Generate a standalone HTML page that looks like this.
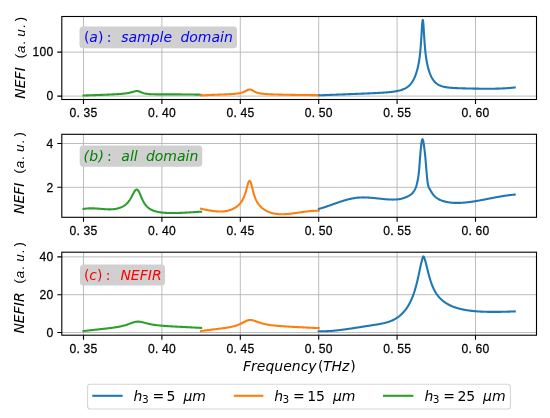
<!DOCTYPE html>
<html><head><meta charset="utf-8"><style>
html,body{margin:0;padding:0;background:#fff;width:550px;height:418px;overflow:hidden}
svg{display:block}
</style></head><body>
<svg width="550" height="418" viewBox="0 0 550 418">
<rect width="550" height="418" fill="#fff"/>
<path d="M83.50,16.5V99.5M161.90,16.5V99.5M240.30,16.5V99.5M318.70,16.5V99.5M397.10,16.5V99.5M475.50,16.5V99.5M61.8,96.10H536.5M61.8,52.10H536.5" stroke="#b0b0b0" stroke-width="0.85" fill="none"/>
<path d="M83.50,95.51 L84.00,95.49 L84.50,95.47 L85.00,95.46 L85.50,95.44 L86.00,95.42 L86.50,95.40 L87.00,95.39 L87.50,95.37 L88.00,95.35 L88.50,95.34 L89.00,95.32 L89.50,95.30 L90.00,95.29 L90.50,95.27 L91.00,95.25 L91.50,95.23 L92.00,95.22 L92.50,95.20 L93.00,95.18 L93.50,95.16 L94.00,95.15 L94.50,95.13 L95.00,95.11 L95.50,95.09 L96.00,95.08 L96.50,95.06 L97.00,95.04 L97.50,95.02 L98.00,95.01 L98.50,94.99 L99.00,94.97 L99.50,94.95 L100.00,94.93 L100.50,94.91 L101.00,94.90 L101.50,94.88 L102.00,94.86 L102.50,94.84 L103.00,94.82 L103.50,94.80 L104.00,94.78 L104.50,94.76 L105.00,94.74 L105.50,94.72 L106.00,94.70 L106.50,94.68 L107.00,94.66 L107.50,94.64 L108.00,94.62 L108.50,94.60 L109.00,94.58 L109.50,94.56 L110.00,94.53 L110.50,94.51 L111.00,94.49 L111.50,94.47 L112.00,94.44 L112.50,94.42 L113.00,94.39 L113.50,94.37 L114.00,94.34 L114.50,94.32 L115.00,94.29 L115.50,94.26 L116.00,94.23 L116.50,94.20 L117.00,94.17 L117.50,94.14 L118.00,94.11 L118.50,94.08 L119.00,94.04 L119.50,94.01 L120.00,93.97 L120.50,93.93 L121.00,93.89 L121.50,93.85 L122.00,93.80 L122.50,93.76 L123.00,93.71 L123.50,93.66 L124.00,93.60 L124.50,93.55 L125.00,93.49 L125.50,93.42 L126.00,93.36 L126.50,93.29 L127.00,93.21 L127.50,93.13 L128.00,93.04 L128.50,92.95 L129.00,92.85 L129.50,92.75 L130.00,92.64 L130.50,92.52 L131.00,92.39 L131.50,92.26 L132.00,92.12 L132.50,91.98 L133.00,91.83 L133.50,91.69 L134.00,91.54 L134.50,91.41 L135.00,91.28 L135.50,91.17 L136.00,91.09 L136.50,91.04 L137.05,91.03 L137.55,91.07 L138.05,91.14 L138.55,91.26 L139.05,91.41 L139.55,91.59 L140.05,91.79 L140.55,92.01 L141.05,92.22 L141.55,92.43 L142.05,92.63 L142.55,92.82 L143.05,93.00 L143.55,93.15 L144.05,93.30 L144.55,93.43 L145.05,93.54 L145.55,93.64 L146.05,93.73 L146.55,93.81 L147.05,93.88 L147.55,93.94 L148.05,94.00 L148.55,94.05 L149.05,94.09 L149.55,94.12 L150.05,94.16 L150.55,94.18 L151.05,94.21 L151.55,94.23 L152.05,94.25 L152.55,94.27 L153.05,94.28 L153.55,94.29 L154.05,94.30 L154.55,94.31 L155.05,94.32 L155.55,94.33 L156.05,94.34 L156.55,94.34 L157.05,94.35 L157.55,94.35 L158.05,94.35 L158.55,94.36 L159.05,94.36 L159.55,94.36 L160.05,94.36 L160.55,94.37 L161.05,94.37 L161.55,94.37 L162.05,94.37 L162.55,94.37 L163.05,94.37 L163.55,94.37 L164.05,94.37 L164.55,94.37 L165.05,94.37 L165.55,94.37 L166.05,94.37 L166.55,94.37 L167.05,94.37 L167.55,94.37 L168.05,94.38 L168.55,94.38 L169.05,94.38 L169.55,94.38 L170.05,94.38 L170.55,94.38 L171.05,94.38 L171.55,94.38 L172.05,94.38 L172.55,94.38 L173.05,94.38 L173.55,94.39 L174.05,94.39 L174.55,94.39 L175.05,94.39 L175.55,94.39 L176.05,94.40 L176.55,94.40 L177.05,94.40 L177.55,94.40 L178.05,94.41 L178.55,94.41 L179.05,94.41 L179.55,94.41 L180.05,94.42 L180.55,94.42 L181.05,94.42 L181.55,94.43 L182.05,94.43 L182.55,94.44 L183.05,94.44 L183.55,94.44 L184.05,94.45 L184.55,94.45 L185.05,94.46 L185.55,94.46 L186.05,94.47 L186.55,94.47 L187.05,94.48 L187.55,94.48 L188.05,94.49 L188.55,94.50 L189.05,94.50 L189.55,94.51 L190.05,94.52 L190.55,94.52 L191.05,94.53 L191.55,94.54 L192.05,94.54 L192.55,94.55 L193.05,94.56 L193.55,94.57 L194.05,94.57 L194.55,94.58 L195.05,94.59 L195.55,94.60 L196.05,94.61 L196.55,94.62 L197.05,94.63 L197.55,94.63 L198.05,94.64 L198.55,94.65 L199.05,94.66 L199.55,94.67 L200.05,94.68 L200.55,94.69 L201.05,94.70 L201.10,94.71" stroke="#2ca02c" stroke-width="2.1" fill="none" stroke-linecap="square" stroke-linejoin="round"/>
<path d="M201.10,95.41 L201.60,95.39 L202.10,95.36 L202.60,95.34 L203.10,95.31 L203.60,95.28 L204.10,95.26 L204.60,95.23 L205.10,95.21 L205.60,95.19 L206.10,95.16 L206.60,95.14 L207.10,95.12 L207.60,95.09 L208.10,95.07 L208.60,95.05 L209.10,95.03 L209.60,95.00 L210.10,94.98 L210.60,94.96 L211.10,94.94 L211.60,94.92 L212.10,94.90 L212.60,94.88 L213.10,94.86 L213.60,94.84 L214.10,94.82 L214.60,94.80 L215.10,94.78 L215.60,94.76 L216.10,94.74 L216.60,94.72 L217.10,94.70 L217.60,94.68 L218.10,94.66 L218.60,94.64 L219.10,94.62 L219.60,94.60 L220.10,94.59 L220.60,94.57 L221.10,94.55 L221.60,94.53 L222.10,94.51 L222.60,94.49 L223.10,94.47 L223.60,94.45 L224.10,94.43 L224.60,94.41 L225.10,94.39 L225.60,94.37 L226.10,94.35 L226.60,94.33 L227.10,94.30 L227.60,94.28 L228.10,94.26 L228.60,94.23 L229.10,94.21 L229.60,94.18 L230.10,94.16 L230.60,94.13 L231.10,94.10 L231.60,94.07 L232.10,94.03 L232.60,94.00 L233.10,93.96 L233.60,93.93 L234.10,93.89 L234.60,93.84 L235.10,93.80 L235.60,93.75 L236.10,93.69 L236.60,93.64 L237.10,93.57 L237.60,93.51 L238.10,93.43 L238.60,93.35 L239.10,93.27 L239.60,93.17 L240.10,93.07 L240.60,92.95 L241.10,92.83 L241.60,92.69 L242.10,92.54 L242.60,92.37 L243.10,92.19 L243.60,91.99 L244.10,91.78 L244.60,91.55 L245.10,91.30 L245.60,91.05 L246.10,90.78 L246.60,90.51 L247.10,90.26 L247.60,90.02 L248.10,89.82 L248.60,89.66 L249.10,89.55 L249.60,89.52 L250.10,89.55 L250.60,89.65 L251.10,89.81 L251.60,90.02 L252.10,90.27 L252.60,90.53 L253.10,90.81 L253.60,91.08 L254.10,91.35 L254.60,91.61 L255.10,91.85 L255.60,92.07 L256.10,92.28 L256.60,92.47 L257.10,92.64 L257.60,92.80 L258.10,92.94 L258.60,93.07 L259.10,93.19 L259.60,93.29 L260.10,93.39 L260.60,93.48 L261.10,93.56 L261.60,93.63 L262.10,93.70 L262.60,93.76 L263.10,93.82 L263.60,93.87 L264.10,93.92 L264.60,93.97 L265.10,94.01 L265.60,94.05 L266.10,94.09 L266.60,94.12 L267.10,94.15 L267.60,94.19 L268.10,94.21 L268.60,94.24 L269.10,94.27 L269.60,94.29 L270.10,94.32 L270.60,94.34 L271.10,94.36 L271.60,94.38 L272.10,94.40 L272.60,94.42 L273.10,94.44 L273.60,94.45 L274.10,94.47 L274.60,94.49 L275.10,94.50 L275.60,94.52 L276.10,94.53 L276.60,94.54 L277.10,94.56 L277.60,94.57 L278.10,94.59 L278.60,94.60 L279.10,94.61 L279.60,94.62 L280.10,94.63 L280.60,94.65 L281.10,94.66 L281.60,94.67 L282.10,94.68 L282.60,94.69 L283.10,94.70 L283.60,94.71 L284.10,94.72 L284.60,94.73 L285.10,94.74 L285.60,94.75 L286.10,94.76 L286.60,94.77 L287.10,94.78 L287.60,94.79 L288.10,94.80 L288.60,94.81 L289.10,94.81 L289.60,94.82 L290.10,94.83 L290.60,94.84 L291.10,94.85 L291.60,94.86 L292.10,94.86 L292.60,94.87 L293.10,94.88 L293.60,94.89 L294.10,94.90 L294.60,94.90 L295.10,94.91 L295.60,94.92 L296.10,94.92 L296.60,94.93 L297.10,94.94 L297.60,94.94 L298.10,94.95 L298.60,94.96 L299.10,94.96 L299.60,94.97 L300.10,94.98 L300.60,94.98 L301.10,94.99 L301.60,94.99 L302.10,95.00 L302.60,95.00 L303.10,95.01 L303.60,95.02 L304.10,95.02 L304.60,95.03 L305.10,95.03 L305.60,95.03 L306.10,95.04 L306.60,95.04 L307.10,95.05 L307.60,95.05 L308.10,95.06 L308.60,95.06 L309.10,95.06 L309.60,95.07 L310.10,95.07 L310.60,95.07 L311.10,95.08 L311.60,95.08 L312.10,95.08 L312.60,95.09 L313.10,95.09 L313.60,95.09 L314.10,95.09 L314.60,95.10 L315.10,95.10 L315.60,95.10 L316.10,95.10 L316.60,95.10 L317.10,95.10 L317.60,95.10 L318.10,95.11 L318.60,95.11 L318.70,95.11" stroke="#ff7f0e" stroke-width="2.1" fill="none" stroke-linecap="square" stroke-linejoin="round"/>
<path d="M319.30,95.30 L319.80,95.29 L320.30,95.27 L320.80,95.25 L321.30,95.23 L321.80,95.21 L322.30,95.19 L322.80,95.18 L323.30,95.16 L323.80,95.14 L324.30,95.12 L324.80,95.10 L325.30,95.08 L325.80,95.06 L326.30,95.04 L326.80,95.02 L327.30,95.01 L327.80,94.99 L328.30,94.97 L328.80,94.95 L329.30,94.93 L329.80,94.91 L330.30,94.89 L330.80,94.87 L331.30,94.85 L331.80,94.83 L332.30,94.81 L332.80,94.79 L333.30,94.78 L333.80,94.76 L334.30,94.74 L334.80,94.72 L335.30,94.70 L335.80,94.68 L336.30,94.66 L336.80,94.64 L337.30,94.62 L337.80,94.60 L338.30,94.58 L338.80,94.56 L339.30,94.54 L339.80,94.52 L340.30,94.50 L340.80,94.48 L341.30,94.46 L341.80,94.44 L342.30,94.43 L342.80,94.41 L343.30,94.39 L343.80,94.37 L344.30,94.35 L344.80,94.33 L345.30,94.31 L345.80,94.29 L346.30,94.27 L346.80,94.25 L347.30,94.23 L347.80,94.21 L348.30,94.19 L348.80,94.17 L349.30,94.15 L349.80,94.13 L350.30,94.11 L350.80,94.09 L351.30,94.07 L351.80,94.06 L352.30,94.04 L352.80,94.02 L353.30,94.00 L353.80,93.98 L354.30,93.96 L354.80,93.94 L355.30,93.92 L355.80,93.90 L356.30,93.88 L356.80,93.86 L357.30,93.84 L357.80,93.82 L358.30,93.80 L358.80,93.78 L359.30,93.76 L359.80,93.74 L360.30,93.72 L360.80,93.70 L361.30,93.68 L361.80,93.66 L362.30,93.64 L362.80,93.62 L363.30,93.60 L363.80,93.58 L364.30,93.56 L364.80,93.54 L365.30,93.52 L365.80,93.50 L366.30,93.48 L366.80,93.46 L367.30,93.44 L367.80,93.42 L368.30,93.40 L368.80,93.38 L369.30,93.36 L369.80,93.33 L370.30,93.31 L370.80,93.29 L371.30,93.27 L371.80,93.25 L372.30,93.22 L372.80,93.20 L373.30,93.18 L373.80,93.15 L374.30,93.13 L374.80,93.11 L375.30,93.08 L375.80,93.06 L376.30,93.03 L376.80,93.01 L377.30,92.98 L377.80,92.96 L378.30,92.93 L378.80,92.90 L379.30,92.87 L379.80,92.85 L380.30,92.82 L380.80,92.79 L381.30,92.76 L381.80,92.73 L382.30,92.70 L382.80,92.66 L383.30,92.63 L383.80,92.60 L384.30,92.56 L384.80,92.52 L385.30,92.49 L385.80,92.45 L386.30,92.41 L386.80,92.37 L387.30,92.33 L387.80,92.28 L388.30,92.24 L388.80,92.19 L389.30,92.14 L389.80,92.09 L390.30,92.04 L390.80,91.99 L391.30,91.93 L391.80,91.87 L392.30,91.81 L392.80,91.74 L393.30,91.68 L393.80,91.61 L394.30,91.53 L394.80,91.45 L395.30,91.37 L395.80,91.29 L396.30,91.20 L396.80,91.11 L397.30,91.01 L397.80,90.90 L398.30,90.79 L398.80,90.68 L399.30,90.55 L399.80,90.42 L400.30,90.29 L400.80,90.14 L401.30,89.99 L401.80,89.82 L402.30,89.65 L402.80,89.46 L403.30,89.26 L403.80,89.05 L404.30,88.83 L404.80,88.58 L405.30,88.33 L405.80,88.05 L406.30,87.75 L406.80,87.44 L407.30,87.09 L407.80,86.73 L408.30,86.33 L408.80,85.91 L409.30,85.45 L409.80,84.95 L410.30,84.41 L410.80,83.83 L411.30,83.20 L411.80,82.52 L412.10,82.08 L412.55,81.38 L413.05,80.54 L413.30,80.10 L413.55,79.63 L413.80,79.15 L414.05,78.64 L414.30,78.11 L414.55,77.56 L414.80,76.98 L415.05,76.38 L415.30,75.75 L415.55,75.09 L415.80,74.40 L416.05,73.68 L416.30,72.93 L416.50,72.30 L416.80,71.31 L417.05,70.43 L417.30,69.51 L417.55,68.54 L417.80,67.51 L418.00,66.63 L418.30,65.24 L418.55,63.98 L418.80,62.62 L419.00,61.45 L419.30,59.54 L419.55,57.76 L419.80,55.80 L419.90,54.95 L420.05,53.61 L420.30,51.15 L420.55,48.39 L420.80,45.29 L421.05,41.82 L421.30,38.01 L421.55,33.94 L421.60,33.10 L421.80,29.79 L422.05,25.88 L422.30,22.64 L422.55,20.53 L422.80,19.91 L423.05,20.90 L423.30,23.28 L423.55,26.65 L423.80,30.55 L424.00,33.78 L424.05,34.58 L424.30,38.49 L424.55,42.11 L424.80,45.40 L425.05,48.34 L425.30,50.96 L425.55,53.29 L425.80,55.37 L426.05,57.25 L426.30,58.94 L426.55,60.49 L426.80,61.90 L427.00,62.95 L427.30,64.41 L427.55,65.54 L427.80,66.60 L428.00,67.39 L428.30,68.52 L428.55,69.40 L428.80,70.24 L429.05,71.03 L429.30,71.79 L429.55,72.51 L429.80,73.19 L430.05,73.84 L430.30,74.46 L430.55,75.06 L430.80,75.62 L431.05,76.16 L431.30,76.68 L431.55,77.17 L431.80,77.65 L432.05,78.10 L432.55,78.94 L433.05,79.71 L433.55,80.41 L434.05,81.05 L434.55,81.63 L435.05,82.17 L435.50,82.61 L436.05,83.11 L436.55,83.52 L437.05,83.89 L437.55,84.23 L438.05,84.55 L438.55,84.83 L439.05,85.10 L439.55,85.34 L440.05,85.56 L440.55,85.77 L441.05,85.96 L441.55,86.13 L442.05,86.29 L442.55,86.44 L443.05,86.58 L443.55,86.70 L444.05,86.82 L444.55,86.93 L445.05,87.03 L445.55,87.12 L446.05,87.21 L446.55,87.29 L447.05,87.36 L447.55,87.43 L448.05,87.50 L448.55,87.56 L449.05,87.61 L449.55,87.67 L450.05,87.71 L450.55,87.76 L451.05,87.80 L451.55,87.84 L452.05,87.88 L452.55,87.91 L453.05,87.95 L453.55,87.98 L454.05,88.01 L454.55,88.03 L455.05,88.06 L455.55,88.08 L456.05,88.11 L456.55,88.13 L457.05,88.15 L457.55,88.17 L458.05,88.19 L458.55,88.21 L459.05,88.23 L459.55,88.25 L460.05,88.26 L460.55,88.28 L461.05,88.29 L461.55,88.31 L462.05,88.32 L462.55,88.34 L463.05,88.35 L463.55,88.36 L464.05,88.38 L464.55,88.39 L465.05,88.40 L465.55,88.41 L466.05,88.43 L466.55,88.44 L467.05,88.45 L467.55,88.46 L468.05,88.47 L468.55,88.48 L469.05,88.49 L469.55,88.50 L470.05,88.52 L470.55,88.53 L471.05,88.54 L471.55,88.55 L472.05,88.56 L472.55,88.57 L473.05,88.58 L473.55,88.58 L474.05,88.59 L474.55,88.60 L475.05,88.61 L475.55,88.62 L476.05,88.63 L476.55,88.64 L477.05,88.65 L477.55,88.65 L478.05,88.66 L478.55,88.67 L479.05,88.68 L479.55,88.68 L480.05,88.69 L480.55,88.70 L481.05,88.70 L481.55,88.71 L482.05,88.71 L482.55,88.72 L483.05,88.72 L483.55,88.73 L484.05,88.73 L484.55,88.73 L485.05,88.74 L485.55,88.74 L486.05,88.74 L486.55,88.74 L487.05,88.74 L487.55,88.74 L488.05,88.74 L488.55,88.74 L489.05,88.74 L489.55,88.74 L490.05,88.74 L490.55,88.74 L491.05,88.73 L491.55,88.73 L492.05,88.73 L492.55,88.72 L493.05,88.71 L493.55,88.71 L494.05,88.70 L494.55,88.69 L495.05,88.68 L495.55,88.67 L496.05,88.66 L496.55,88.65 L497.05,88.64 L497.55,88.62 L498.05,88.61 L498.55,88.59 L499.05,88.58 L499.55,88.56 L500.05,88.54 L500.55,88.52 L501.05,88.50 L501.55,88.48 L502.05,88.46 L502.55,88.44 L503.05,88.41 L503.55,88.39 L504.05,88.36 L504.55,88.33 L505.05,88.31 L505.55,88.27 L506.05,88.24 L506.55,88.21 L507.05,88.18 L507.55,88.14 L508.05,88.11 L508.55,88.07 L509.05,88.03 L509.55,87.99 L510.05,87.95 L510.55,87.90 L511.05,87.86 L511.55,87.81 L512.05,87.76 L512.55,87.71 L513.05,87.66 L513.55,87.61 L514.05,87.56 L514.55,87.50 L514.70,87.48" stroke="#1f77b4" stroke-width="2.1" fill="none" stroke-linecap="square" stroke-linejoin="round"/>
<rect x="61.8" y="16.5" width="474.7" height="83.0" fill="none" stroke="#000" stroke-width="1.1"/>
<path d="M83.50,99.5v4.5M161.90,99.5v4.5M240.30,99.5v4.5M318.70,99.5v4.5M397.10,99.5v4.5M475.50,99.5v4.5M61.8,96.10h-4.5M61.8,52.10h-4.5" stroke="#000" stroke-width="1.1" fill="none"/>
<g style="font-family:'Liberation Sans',sans-serif;font-size:13.2px;stroke:#000;stroke-width:0.25" fill="#000"><text transform="translate(69.62,117.00) scale(0.92,1)" x="0.00 7.58 15.22 22.83" y="0">0.35</text><text transform="translate(148.02,117.00) scale(0.92,1)" x="0.00 7.58 15.22 22.83" y="0">0.40</text><text transform="translate(226.42,117.00) scale(0.92,1)" x="0.00 7.58 15.22 22.83" y="0">0.45</text><text transform="translate(304.82,117.00) scale(0.92,1)" x="0.00 7.58 15.22 22.83" y="0">0.50</text><text transform="translate(383.22,117.00) scale(0.92,1)" x="0.00 7.58 15.22 22.83" y="0">0.55</text><text transform="translate(461.62,117.00) scale(0.92,1)" x="0.00 7.58 15.22 22.83" y="0">0.60</text><text transform="translate(46.42,100.40) scale(0.92,1)" x="0.00" y="0">0</text><text transform="translate(32.42,56.40) scale(0.92,1)" x="0.00 7.61 15.22" y="0">100</text></g>
<rect x="79.5" y="26.4" width="157.5" height="21.9" rx="3.5" fill="#d0d0d0"/>
<g fill="#0000ff"><text y="41.9"><tspan x="83.9" style="font-family:'DejaVu Sans',sans-serif;font-size:14px">(</tspan><tspan x="89.36" style="font-family:'DejaVu Sans',sans-serif;font-style:italic;font-size:14px">a</tspan><tspan x="97.94" style="font-family:'DejaVu Sans',sans-serif;font-size:14px">)</tspan><tspan x="106.7" style="font-family:'DejaVu Sans',sans-serif;font-size:14px">: </tspan><tspan x="121.2" style="font-family:'DejaVu Sans',sans-serif;font-style:italic;font-size:14px">sample </tspan><tspan x="180.4" style="font-family:'DejaVu Sans',sans-serif;font-style:italic;font-size:14px">domain</tspan></text></g>
<g transform="translate(25.3,98.7) rotate(-90)" fill="#000"><text><tspan x="0" y="0" text-anchor="start" style="font-family:'DejaVu Sans',sans-serif;font-style:italic;font-size:14px">NEFI </tspan><tspan x="42.70" y="-1.2" text-anchor="middle" style="font-family:'Liberation Sans',sans-serif;font-size:13px">(</tspan><tspan x="49.40" y="0" text-anchor="middle" style="font-family:'Liberation Sans',sans-serif;font-size:13.4px;font-style:italic">a</tspan><tspan x="55.90" y="0" text-anchor="middle" style="font-family:'Liberation Sans',sans-serif;font-size:13.4px">.</tspan><tspan x="65.80" y="0" text-anchor="middle" style="font-family:'Liberation Sans',sans-serif;font-size:13.4px;font-style:italic">u</tspan><tspan x="72.20" y="0" text-anchor="middle" style="font-family:'Liberation Sans',sans-serif;font-size:13.4px">.</tspan><tspan x="79.70" y="-1.2" text-anchor="middle" style="font-family:'Liberation Sans',sans-serif;font-size:13px">)</tspan></text></g>
<path d="M83.50,134.3V217.3M161.90,134.3V217.3M240.30,134.3V217.3M318.70,134.3V217.3M397.10,134.3V217.3M475.50,134.3V217.3M61.8,187.30H536.5M61.8,143.50H536.5" stroke="#b0b0b0" stroke-width="0.85" fill="none"/>
<path d="M83.50,208.99 L84.00,208.90 L84.50,208.82 L85.00,208.75 L85.50,208.68 L86.00,208.62 L86.50,208.56 L87.00,208.51 L87.50,208.47 L88.00,208.44 L88.50,208.40 L89.00,208.38 L89.50,208.36 L90.00,208.35 L90.50,208.34 L91.00,208.33 L91.50,208.33 L92.00,208.33 L92.50,208.34 L93.00,208.35 L93.50,208.37 L94.00,208.38 L94.50,208.41 L95.00,208.43 L95.50,208.46 L96.00,208.49 L96.50,208.52 L97.00,208.55 L97.50,208.59 L98.00,208.62 L98.50,208.66 L99.00,208.70 L99.50,208.74 L100.00,208.78 L100.50,208.83 L101.00,208.87 L101.50,208.91 L102.00,208.95 L102.50,208.99 L103.00,209.03 L103.50,209.07 L104.00,209.11 L104.50,209.14 L105.00,209.18 L105.50,209.21 L106.00,209.24 L106.50,209.27 L107.00,209.29 L107.50,209.31 L108.00,209.33 L108.50,209.34 L109.00,209.35 L109.50,209.36 L110.00,209.35 L110.50,209.35 L111.00,209.34 L111.50,209.32 L112.00,209.30 L112.50,209.26 L113.00,209.23 L113.50,209.18 L114.00,209.13 L114.50,209.07 L115.00,208.99 L115.50,208.92 L116.00,208.83 L116.50,208.73 L117.00,208.63 L117.50,208.51 L118.00,208.38 L118.50,208.25 L119.00,208.10 L119.50,207.94 L120.00,207.76 L120.50,207.58 L121.00,207.38 L121.50,207.16 L122.00,206.93 L122.50,206.68 L123.00,206.41 L123.50,206.12 L124.00,205.80 L124.50,205.47 L125.00,205.11 L125.50,204.72 L126.00,204.30 L126.50,203.85 L127.00,203.36 L127.50,202.83 L128.00,202.27 L128.50,201.66 L129.00,201.00 L129.50,200.30 L130.00,199.54 L130.50,198.74 L130.80,198.24 L131.25,197.45 L131.50,197.00 L131.75,196.54 L132.00,196.07 L132.25,195.59 L132.50,195.11 L132.75,194.63 L133.00,194.15 L133.25,193.66 L133.50,193.19 L133.75,192.72 L134.00,192.27 L134.25,191.83 L134.75,191.03 L135.25,190.35 L135.75,189.84 L136.25,189.53 L136.75,189.43 L137.25,189.58 L137.75,189.97 L138.25,190.58 L138.75,191.38 L139.00,191.85 L139.25,192.35 L139.50,192.87 L139.75,193.42 L140.00,193.99 L140.25,194.57 L140.50,195.16 L140.75,195.76 L141.00,196.35 L141.25,196.94 L141.50,197.52 L141.75,198.10 L142.00,198.66 L142.25,199.21 L142.50,199.75 L142.75,200.26 L143.00,200.77 L143.25,201.25 L143.50,201.72 L143.75,202.17 L144.00,202.61 L144.50,203.43 L145.00,204.18 L145.50,204.87 L146.00,205.50 L146.50,206.08 L147.00,206.60 L147.50,207.09 L148.00,207.53 L148.50,207.94 L149.00,208.32 L149.50,208.67 L150.00,208.98 L150.50,209.28 L151.00,209.55 L151.50,209.81 L152.00,210.04 L152.50,210.26 L153.00,210.47 L153.50,210.66 L154.00,210.84 L154.50,211.00 L155.00,211.16 L155.50,211.31 L156.00,211.44 L156.50,211.57 L157.00,211.69 L157.50,211.80 L158.00,211.91 L158.50,212.01 L159.00,212.10 L159.50,212.18 L160.00,212.26 L160.50,212.34 L161.00,212.41 L161.50,212.47 L162.00,212.53 L162.50,212.59 L163.00,212.64 L163.50,212.69 L164.00,212.73 L164.50,212.77 L165.00,212.81 L165.50,212.84 L166.00,212.87 L166.50,212.90 L167.00,212.93 L167.50,212.95 L168.00,212.97 L168.50,212.99 L169.00,213.00 L169.50,213.01 L170.00,213.03 L170.50,213.03 L171.00,213.04 L171.50,213.05 L172.00,213.05 L172.50,213.05 L173.00,213.05 L173.50,213.05 L174.00,213.04 L174.50,213.04 L175.00,213.03 L175.50,213.03 L176.00,213.02 L176.50,213.01 L177.00,212.99 L177.50,212.98 L178.00,212.97 L178.50,212.95 L179.00,212.93 L179.50,212.92 L180.00,212.90 L180.50,212.88 L181.00,212.86 L181.50,212.84 L182.00,212.82 L182.50,212.79 L183.00,212.77 L183.50,212.75 L184.00,212.72 L184.50,212.69 L185.00,212.67 L185.50,212.64 L186.00,212.61 L186.50,212.59 L187.00,212.56 L187.50,212.53 L188.00,212.50 L188.50,212.47 L189.00,212.44 L189.50,212.41 L190.00,212.38 L190.50,212.35 L191.00,212.32 L191.50,212.29 L192.00,212.26 L192.50,212.23 L193.00,212.19 L193.50,212.16 L194.00,212.13 L194.50,212.10 L195.00,212.07 L195.50,212.04 L196.00,212.01 L196.50,211.97 L197.00,211.94 L197.50,211.91 L198.00,211.88 L198.50,211.85 L199.00,211.82 L199.50,211.79 L200.00,211.76 L200.50,211.73 L201.00,211.70 L201.10,211.70" stroke="#2ca02c" stroke-width="2.1" fill="none" stroke-linecap="square" stroke-linejoin="round"/>
<path d="M201.10,208.75 L201.60,208.86 L202.10,208.97 L202.60,209.08 L203.10,209.18 L203.60,209.29 L204.10,209.39 L204.60,209.50 L205.10,209.60 L205.60,209.70 L206.10,209.80 L206.60,209.90 L207.10,210.00 L207.60,210.10 L208.10,210.19 L208.60,210.28 L209.10,210.37 L209.60,210.46 L210.10,210.55 L210.60,210.63 L211.10,210.71 L211.60,210.79 L212.10,210.86 L212.60,210.94 L213.10,211.00 L213.60,211.07 L214.10,211.13 L214.60,211.19 L215.10,211.24 L215.60,211.29 L216.10,211.34 L216.60,211.38 L217.10,211.42 L217.60,211.45 L218.10,211.48 L218.60,211.50 L219.10,211.52 L219.60,211.53 L220.10,211.53 L220.60,211.53 L221.10,211.52 L221.60,211.51 L222.10,211.49 L222.60,211.46 L223.10,211.43 L223.60,211.39 L224.10,211.34 L224.60,211.28 L225.10,211.21 L225.60,211.14 L226.10,211.06 L226.60,210.97 L227.10,210.86 L227.60,210.75 L228.10,210.63 L228.60,210.50 L229.10,210.36 L229.60,210.21 L230.10,210.04 L230.60,209.87 L231.10,209.68 L231.60,209.48 L232.10,209.27 L232.60,209.04 L233.10,208.80 L233.60,208.54 L234.10,208.27 L234.60,207.99 L235.10,207.68 L235.60,207.36 L236.10,207.02 L236.60,206.66 L237.00,206.36 L237.60,205.88 L238.10,205.45 L238.60,204.99 L239.10,204.50 L239.60,203.98 L240.10,203.41 L240.60,202.81 L241.10,202.15 L241.60,201.43 L242.10,200.65 L242.60,199.80 L242.85,199.34 L243.10,198.85 L243.35,198.34 L243.60,197.81 L243.85,197.25 L244.10,196.65 L244.35,196.03 L244.60,195.37 L244.85,194.67 L245.10,193.95 L245.30,193.34 L245.60,192.38 L245.85,191.55 L246.10,190.68 L246.35,189.79 L246.60,188.87 L246.85,187.93 L247.10,186.99 L247.35,186.05 L247.60,185.14 L247.85,184.26 L248.10,183.44 L248.35,182.69 L248.60,182.04 L248.85,181.52 L249.35,180.88 L249.90,180.94 L250.40,181.66 L250.65,182.25 L250.90,182.95 L251.15,183.76 L251.40,184.64 L251.65,185.59 L251.80,186.18 L252.15,187.57 L252.40,188.58 L252.65,189.58 L252.90,190.56 L253.15,191.52 L253.40,192.44 L253.65,193.33 L253.90,194.18 L254.15,194.98 L254.40,195.76 L254.65,196.49 L254.90,197.18 L255.15,197.84 L255.40,198.46 L255.65,199.05 L255.90,199.62 L256.15,200.15 L256.40,200.65 L256.65,201.14 L256.90,201.59 L257.15,202.03 L257.65,202.85 L258.15,203.59 L258.65,204.28 L259.15,204.91 L259.65,205.50 L260.15,206.05 L260.65,206.57 L261.15,207.05 L261.65,207.51 L262.15,207.94 L262.65,208.35 L263.15,208.73 L263.65,209.10 L264.15,209.45 L264.65,209.78 L265.15,210.09 L265.65,210.39 L266.15,210.67 L266.65,210.94 L267.15,211.19 L267.65,211.44 L268.15,211.66 L268.65,211.88 L269.15,212.09 L269.65,212.28 L270.15,212.46 L270.65,212.63 L271.15,212.79 L271.65,212.94 L272.15,213.09 L272.65,213.22 L273.15,213.34 L273.65,213.45 L274.15,213.56 L274.65,213.65 L275.15,213.74 L275.65,213.82 L276.15,213.89 L276.65,213.96 L277.15,214.02 L277.65,214.07 L278.15,214.11 L278.65,214.15 L279.15,214.18 L279.65,214.21 L280.15,214.23 L280.65,214.24 L281.15,214.25 L281.65,214.25 L282.15,214.25 L282.65,214.25 L283.15,214.24 L283.65,214.22 L284.15,214.20 L284.65,214.18 L285.15,214.16 L285.65,214.13 L286.15,214.09 L286.65,214.06 L287.15,214.02 L287.65,213.97 L288.15,213.93 L288.65,213.88 L289.15,213.83 L289.65,213.78 L290.15,213.72 L290.65,213.67 L291.15,213.61 L291.65,213.55 L292.15,213.49 L292.65,213.42 L293.15,213.36 L293.65,213.29 L294.15,213.22 L294.65,213.15 L295.15,213.09 L295.65,213.02 L296.15,212.94 L296.65,212.87 L297.15,212.80 L297.65,212.73 L298.15,212.66 L298.65,212.58 L299.15,212.51 L299.65,212.44 L300.15,212.37 L300.65,212.30 L301.15,212.23 L301.65,212.15 L302.15,212.08 L302.65,212.01 L303.15,211.95 L303.65,211.88 L304.15,211.81 L304.65,211.75 L305.15,211.68 L305.65,211.62 L306.15,211.56 L306.65,211.49 L307.15,211.44 L307.65,211.38 L308.15,211.32 L308.65,211.27 L309.15,211.22 L309.65,211.17 L310.15,211.12 L310.65,211.07 L311.15,211.03 L311.65,210.99 L312.15,210.95 L312.65,210.91 L313.15,210.87 L313.65,210.84 L314.15,210.81 L314.65,210.79 L315.15,210.76 L315.65,210.74 L316.15,210.72 L316.65,210.71 L317.15,210.70 L317.65,210.69 L318.15,210.68 L318.65,210.68 L318.70,210.68" stroke="#ff7f0e" stroke-width="2.1" fill="none" stroke-linecap="square" stroke-linejoin="round"/>
<path d="M318.90,208.89 L319.40,208.75 L319.90,208.61 L320.40,208.47 L320.90,208.32 L321.40,208.17 L321.90,208.02 L322.40,207.86 L322.90,207.71 L323.40,207.55 L323.90,207.39 L324.40,207.23 L324.90,207.06 L325.40,206.90 L325.90,206.73 L326.40,206.56 L326.90,206.39 L327.40,206.22 L327.90,206.05 L328.40,205.88 L328.90,205.70 L329.40,205.53 L329.90,205.35 L330.40,205.18 L330.90,205.00 L331.40,204.82 L331.90,204.65 L332.40,204.47 L332.90,204.29 L333.40,204.11 L333.90,203.94 L334.40,203.76 L334.90,203.59 L335.40,203.41 L335.90,203.23 L336.40,203.06 L336.90,202.89 L337.40,202.71 L337.90,202.54 L338.40,202.37 L338.90,202.20 L339.40,202.03 L339.90,201.87 L340.40,201.70 L340.90,201.54 L341.40,201.37 L341.90,201.21 L342.40,201.06 L342.90,200.90 L343.40,200.74 L343.90,200.59 L344.40,200.44 L344.90,200.30 L345.40,200.15 L345.90,200.01 L346.40,199.87 L346.90,199.73 L347.40,199.60 L347.90,199.47 L348.40,199.34 L348.90,199.22 L349.40,199.10 L349.90,198.98 L350.40,198.87 L350.90,198.76 L351.40,198.65 L351.90,198.55 L352.40,198.45 L352.90,198.35 L353.40,198.26 L353.90,198.18 L354.40,198.10 L354.90,198.02 L355.40,197.95 L355.90,197.88 L356.40,197.82 L356.90,197.76 L357.40,197.71 L357.90,197.66 L358.40,197.61 L358.90,197.58 L359.40,197.54 L359.90,197.51 L360.40,197.49 L360.90,197.47 L361.40,197.45 L361.90,197.44 L362.40,197.43 L362.90,197.42 L363.40,197.42 L363.90,197.42 L364.40,197.43 L364.90,197.44 L365.40,197.45 L365.90,197.46 L366.40,197.48 L366.90,197.50 L367.40,197.52 L367.90,197.55 L368.40,197.58 L368.90,197.61 L369.40,197.64 L369.90,197.68 L370.40,197.72 L370.90,197.76 L371.40,197.80 L371.90,197.84 L372.40,197.89 L372.90,197.93 L373.40,197.98 L373.90,198.03 L374.40,198.08 L374.90,198.13 L375.40,198.18 L375.90,198.23 L376.40,198.29 L376.90,198.34 L377.40,198.40 L377.90,198.45 L378.40,198.51 L378.90,198.56 L379.40,198.62 L379.90,198.67 L380.40,198.72 L380.90,198.78 L381.40,198.83 L381.90,198.88 L382.40,198.94 L382.90,198.99 L383.40,199.04 L383.90,199.08 L384.40,199.13 L384.90,199.18 L385.40,199.22 L385.90,199.26 L386.40,199.30 L386.90,199.34 L387.40,199.38 L387.90,199.41 L388.40,199.44 L388.90,199.47 L389.40,199.49 L389.90,199.52 L390.40,199.54 L390.90,199.55 L391.40,199.56 L391.90,199.57 L392.40,199.58 L392.90,199.58 L393.40,199.57 L393.90,199.56 L394.40,199.55 L394.90,199.53 L395.40,199.51 L395.90,199.48 L396.40,199.44 L396.90,199.40 L397.40,199.35 L397.90,199.30 L398.40,199.24 L398.90,199.17 L399.40,199.09 L399.90,199.00 L400.40,198.91 L400.90,198.81 L401.40,198.69 L401.90,198.57 L402.40,198.43 L402.90,198.29 L403.40,198.14 L403.90,197.97 L404.40,197.80 L404.90,197.62 L405.40,197.43 L405.90,197.23 L406.40,197.02 L406.90,196.80 L407.40,196.57 L407.90,196.33 L408.40,196.07 L408.90,195.80 L409.40,195.51 L409.90,195.19 L410.40,194.86 L410.90,194.49 L411.40,194.09 L411.90,193.65 L412.40,193.16 L412.90,192.61 L413.40,191.98 L413.90,191.27 L414.40,190.45 L414.65,190.00 L414.90,189.51 L415.15,188.98 L415.40,188.41 L415.65,187.79 L415.90,187.12 L416.15,186.39 L416.40,185.60 L416.65,184.74 L416.90,183.80 L417.15,182.78 L417.40,181.67 L417.65,180.46 L417.90,179.14 L418.15,177.70 L418.40,176.08 L418.60,174.61 L418.90,172.04 L419.15,169.50 L419.40,166.54 L419.65,163.17 L419.90,159.70 L420.15,156.43 L420.40,153.41 L420.65,150.61 L420.90,148.05 L421.15,145.74 L421.30,144.47 L421.40,143.69 L421.65,141.95 L421.90,140.58 L422.15,139.64 L422.40,139.18 L423.00,140.03 L423.25,141.12 L423.50,142.55 L423.75,144.21 L423.90,145.27 L424.00,145.98 L424.25,147.80 L424.50,149.70 L424.75,151.72 L425.00,153.90 L425.25,156.32 L425.30,156.84 L425.50,159.03 L425.75,161.98 L426.00,165.07 L426.25,168.19 L426.30,168.81 L426.50,171.26 L426.75,174.19 L427.00,176.91 L427.25,179.34 L427.50,181.40 L427.75,183.11 L427.90,183.98 L428.00,184.51 L428.25,185.64 L428.50,186.55 L428.75,187.28 L429.00,187.87 L429.25,188.36 L429.50,188.79 L430.00,189.62 L430.50,190.45 L431.00,191.28 L431.50,192.11 L432.00,192.91 L432.50,193.67 L432.90,194.24 L433.25,194.71 L433.75,195.31 L434.25,195.86 L434.75,196.36 L435.25,196.82 L435.75,197.24 L436.25,197.62 L436.75,197.98 L437.25,198.32 L437.75,198.63 L438.25,198.92 L438.75,199.19 L439.25,199.45 L439.75,199.70 L440.25,199.93 L440.75,200.15 L441.25,200.35 L441.75,200.55 L442.25,200.73 L442.75,200.91 L443.25,201.07 L443.75,201.23 L444.25,201.37 L444.75,201.51 L445.25,201.64 L445.75,201.76 L446.25,201.87 L446.75,201.98 L447.25,202.08 L447.75,202.17 L448.25,202.26 L448.75,202.33 L449.25,202.41 L449.75,202.47 L450.25,202.54 L450.75,202.59 L451.25,202.64 L451.75,202.69 L452.25,202.73 L452.75,202.77 L453.25,202.80 L453.75,202.83 L454.25,202.85 L454.75,202.87 L455.25,202.89 L455.75,202.90 L456.25,202.91 L456.75,202.91 L457.25,202.92 L457.75,202.91 L458.25,202.91 L458.75,202.90 L459.25,202.89 L459.75,202.87 L460.25,202.85 L460.75,202.83 L461.25,202.80 L461.75,202.78 L462.25,202.75 L462.75,202.71 L463.25,202.68 L463.75,202.64 L464.25,202.60 L464.75,202.56 L465.25,202.51 L465.75,202.46 L466.25,202.41 L466.75,202.36 L467.25,202.31 L467.75,202.25 L468.25,202.19 L468.75,202.13 L469.25,202.07 L469.75,202.01 L470.25,201.94 L470.75,201.87 L471.25,201.80 L471.75,201.73 L472.25,201.66 L472.75,201.59 L473.25,201.51 L473.75,201.43 L474.25,201.36 L474.75,201.28 L475.25,201.19 L475.75,201.11 L476.25,201.03 L476.75,200.94 L477.25,200.86 L477.75,200.77 L478.25,200.68 L478.75,200.59 L479.25,200.50 L479.75,200.41 L480.25,200.32 L480.75,200.23 L481.25,200.14 L481.75,200.04 L482.25,199.95 L482.75,199.86 L483.25,199.76 L483.75,199.66 L484.25,199.57 L484.75,199.47 L485.25,199.37 L485.75,199.28 L486.25,199.18 L486.75,199.08 L487.25,198.98 L487.75,198.88 L488.25,198.79 L488.75,198.69 L489.25,198.59 L489.75,198.49 L490.25,198.39 L490.75,198.30 L491.25,198.20 L491.75,198.10 L492.25,198.00 L492.75,197.91 L493.25,197.81 L493.75,197.71 L494.25,197.62 L494.75,197.52 L495.25,197.43 L495.75,197.33 L496.25,197.24 L496.75,197.15 L497.25,197.05 L497.75,196.96 L498.25,196.87 L498.75,196.78 L499.25,196.69 L499.75,196.60 L500.25,196.52 L500.75,196.43 L501.25,196.35 L501.75,196.26 L502.25,196.18 L502.75,196.10 L503.25,196.02 L503.75,195.94 L504.25,195.86 L504.75,195.78 L505.25,195.71 L505.75,195.63 L506.25,195.56 L506.75,195.49 L507.25,195.42 L507.75,195.35 L508.25,195.29 L508.75,195.22 L509.25,195.16 L509.75,195.10 L510.25,195.04 L510.75,194.99 L511.25,194.93 L511.75,194.88 L512.25,194.83 L512.75,194.78 L513.25,194.73 L513.75,194.69 L514.25,194.64 L514.70,194.61" stroke="#1f77b4" stroke-width="2.1" fill="none" stroke-linecap="square" stroke-linejoin="round"/>
<rect x="61.8" y="134.3" width="474.7" height="83.0" fill="none" stroke="#000" stroke-width="1.1"/>
<path d="M83.50,217.3v4.5M161.90,217.3v4.5M240.30,217.3v4.5M318.70,217.3v4.5M397.10,217.3v4.5M475.50,217.3v4.5M61.8,187.30h-4.5M61.8,143.50h-4.5" stroke="#000" stroke-width="1.1" fill="none"/>
<g style="font-family:'Liberation Sans',sans-serif;font-size:13.2px;stroke:#000;stroke-width:0.25" fill="#000"><text transform="translate(69.62,234.80) scale(0.92,1)" x="0.00 7.58 15.22 22.83" y="0">0.35</text><text transform="translate(148.02,234.80) scale(0.92,1)" x="0.00 7.58 15.22 22.83" y="0">0.40</text><text transform="translate(226.42,234.80) scale(0.92,1)" x="0.00 7.58 15.22 22.83" y="0">0.45</text><text transform="translate(304.82,234.80) scale(0.92,1)" x="0.00 7.58 15.22 22.83" y="0">0.50</text><text transform="translate(383.22,234.80) scale(0.92,1)" x="0.00 7.58 15.22 22.83" y="0">0.55</text><text transform="translate(461.62,234.80) scale(0.92,1)" x="0.00 7.58 15.22 22.83" y="0">0.60</text><text transform="translate(46.42,191.60) scale(0.92,1)" x="0.00" y="0">2</text><text transform="translate(46.42,147.80) scale(0.92,1)" x="0.00" y="0">4</text></g>
<rect x="79.7" y="145.6" width="122.5" height="21.1" rx="3.5" fill="#d0d0d0"/>
<g fill="#008000"><text y="161.1"><tspan x="83.6" style="font-family:'DejaVu Sans',sans-serif;font-style:italic;font-size:14px">(</tspan><tspan x="89.36" style="font-family:'DejaVu Sans',sans-serif;font-style:italic;font-size:14px">b</tspan><tspan x="98.6" style="font-family:'DejaVu Sans',sans-serif;font-style:italic;font-size:14px">)</tspan><tspan x="107.0" style="font-family:'DejaVu Sans',sans-serif;font-size:14px">: </tspan><tspan x="121.3" style="font-family:'DejaVu Sans',sans-serif;font-style:italic;font-size:14px">all </tspan><tspan x="145.9" style="font-family:'DejaVu Sans',sans-serif;font-style:italic;font-size:14px">domain</tspan></text></g>
<g transform="translate(24.0,214.0) rotate(-90)" fill="#000"><text><tspan x="0" y="0" text-anchor="start" style="font-family:'DejaVu Sans',sans-serif;font-style:italic;font-size:14px">NEFI </tspan><tspan x="42.70" y="-1.2" text-anchor="middle" style="font-family:'Liberation Sans',sans-serif;font-size:13px">(</tspan><tspan x="49.40" y="0" text-anchor="middle" style="font-family:'Liberation Sans',sans-serif;font-size:13.4px;font-style:italic">a</tspan><tspan x="55.90" y="0" text-anchor="middle" style="font-family:'Liberation Sans',sans-serif;font-size:13.4px">.</tspan><tspan x="65.80" y="0" text-anchor="middle" style="font-family:'Liberation Sans',sans-serif;font-size:13.4px;font-style:italic">u</tspan><tspan x="72.20" y="0" text-anchor="middle" style="font-family:'Liberation Sans',sans-serif;font-size:13.4px">.</tspan><tspan x="79.70" y="-1.2" text-anchor="middle" style="font-family:'Liberation Sans',sans-serif;font-size:13px">)</tspan></text></g>
<path d="M83.50,252.2V335.2M161.90,252.2V335.2M240.30,252.2V335.2M318.70,252.2V335.2M397.10,252.2V335.2M475.50,252.2V335.2M61.8,332.50H536.5M61.8,294.70H536.5M61.8,256.90H536.5" stroke="#b0b0b0" stroke-width="0.85" fill="none"/>
<path d="M83.50,331.11 L84.00,331.05 L84.50,330.99 L85.00,330.92 L85.50,330.86 L86.00,330.80 L86.50,330.74 L87.00,330.68 L87.50,330.62 L88.00,330.56 L88.50,330.50 L89.00,330.44 L89.50,330.38 L90.00,330.32 L90.50,330.26 L91.00,330.21 L91.50,330.15 L92.00,330.09 L92.50,330.03 L93.00,329.98 L93.50,329.92 L94.00,329.86 L94.50,329.81 L95.00,329.75 L95.50,329.70 L96.00,329.64 L96.50,329.59 L97.00,329.53 L97.50,329.48 L98.00,329.42 L98.50,329.37 L99.00,329.31 L99.50,329.26 L100.00,329.20 L100.50,329.15 L101.00,329.09 L101.50,329.04 L102.00,328.98 L102.50,328.93 L103.00,328.87 L103.50,328.82 L104.00,328.76 L104.50,328.71 L105.00,328.65 L105.50,328.60 L106.00,328.54 L106.50,328.48 L107.00,328.42 L107.50,328.37 L108.00,328.31 L108.50,328.25 L109.00,328.19 L109.50,328.13 L110.00,328.07 L110.50,328.01 L111.00,327.94 L111.50,327.88 L112.00,327.82 L112.50,327.75 L113.00,327.68 L113.50,327.61 L114.00,327.54 L114.50,327.47 L115.00,327.40 L115.50,327.32 L116.00,327.24 L116.50,327.16 L117.00,327.08 L117.50,327.00 L118.00,326.91 L118.50,326.82 L119.00,326.73 L119.50,326.63 L120.00,326.53 L120.50,326.43 L121.00,326.32 L121.50,326.21 L122.00,326.09 L122.50,325.97 L123.00,325.84 L123.50,325.71 L124.00,325.58 L124.50,325.44 L125.00,325.29 L125.50,325.14 L126.00,324.98 L126.50,324.82 L127.00,324.65 L127.50,324.48 L128.00,324.30 L128.50,324.12 L129.00,323.94 L129.50,323.75 L130.00,323.56 L130.50,323.37 L131.00,323.19 L131.50,323.00 L132.00,322.82 L132.50,322.65 L133.00,322.48 L133.50,322.32 L134.00,322.18 L134.50,322.04 L135.00,321.93 L135.50,321.83 L136.00,321.75 L136.50,321.68 L137.00,321.64 L137.50,321.62 L138.15,321.62 L138.65,321.64 L139.15,321.68 L139.65,321.74 L140.15,321.81 L140.65,321.89 L141.15,321.98 L141.65,322.09 L142.15,322.20 L142.65,322.32 L143.15,322.45 L143.65,322.57 L144.15,322.70 L144.65,322.83 L145.15,322.96 L145.65,323.09 L146.15,323.22 L146.65,323.35 L147.15,323.47 L147.65,323.59 L148.15,323.71 L148.65,323.82 L149.15,323.93 L149.65,324.04 L150.15,324.14 L150.65,324.24 L151.15,324.34 L151.65,324.43 L152.15,324.52 L152.65,324.60 L153.15,324.69 L153.65,324.76 L154.15,324.84 L154.65,324.91 L155.15,324.98 L155.65,325.05 L156.15,325.11 L156.65,325.17 L157.15,325.23 L157.65,325.29 L158.15,325.35 L158.65,325.40 L159.15,325.45 L159.65,325.50 L160.15,325.55 L160.65,325.60 L161.15,325.64 L161.65,325.69 L162.15,325.73 L162.65,325.77 L163.15,325.81 L163.65,325.85 L164.15,325.89 L164.65,325.93 L165.15,325.96 L165.65,326.00 L166.15,326.03 L166.65,326.07 L167.15,326.10 L167.65,326.13 L168.15,326.16 L168.65,326.20 L169.15,326.23 L169.65,326.26 L170.15,326.29 L170.65,326.32 L171.15,326.34 L171.65,326.37 L172.15,326.40 L172.65,326.43 L173.15,326.46 L173.65,326.48 L174.15,326.51 L174.65,326.54 L175.15,326.57 L175.65,326.59 L176.15,326.62 L176.65,326.64 L177.15,326.67 L177.65,326.70 L178.15,326.72 L178.65,326.75 L179.15,326.77 L179.65,326.80 L180.15,326.82 L180.65,326.85 L181.15,326.87 L181.65,326.90 L182.15,326.92 L182.65,326.95 L183.15,326.97 L183.65,327.00 L184.15,327.02 L184.65,327.05 L185.15,327.07 L185.65,327.10 L186.15,327.12 L186.65,327.15 L187.15,327.17 L187.65,327.20 L188.15,327.22 L188.65,327.25 L189.15,327.28 L189.65,327.30 L190.15,327.33 L190.65,327.35 L191.15,327.38 L191.65,327.40 L192.15,327.43 L192.65,327.46 L193.15,327.48 L193.65,327.51 L194.15,327.53 L194.65,327.56 L195.15,327.59 L195.65,327.61 L196.15,327.64 L196.65,327.67 L197.15,327.69 L197.65,327.72 L198.15,327.75 L198.65,327.77 L199.15,327.80 L199.65,327.83 L200.15,327.86 L200.65,327.88 L201.10,327.91" stroke="#2ca02c" stroke-width="2.1" fill="none" stroke-linecap="square" stroke-linejoin="round"/>
<path d="M201.10,331.01 L201.60,330.94 L202.10,330.88 L202.60,330.81 L203.10,330.74 L203.60,330.67 L204.10,330.61 L204.60,330.54 L205.10,330.47 L205.60,330.41 L206.10,330.34 L206.60,330.28 L207.10,330.22 L207.60,330.15 L208.10,330.09 L208.60,330.03 L209.10,329.96 L209.60,329.90 L210.10,329.84 L210.60,329.78 L211.10,329.71 L211.60,329.65 L212.10,329.59 L212.60,329.53 L213.10,329.47 L213.60,329.41 L214.10,329.35 L214.60,329.29 L215.10,329.23 L215.60,329.17 L216.10,329.11 L216.60,329.05 L217.10,328.99 L217.60,328.93 L218.10,328.86 L218.60,328.80 L219.10,328.74 L219.60,328.68 L220.10,328.62 L220.60,328.55 L221.10,328.49 L221.60,328.42 L222.10,328.36 L222.60,328.29 L223.10,328.23 L223.60,328.16 L224.10,328.09 L224.60,328.02 L225.10,327.94 L225.60,327.87 L226.10,327.80 L226.60,327.72 L227.10,327.64 L227.60,327.56 L228.10,327.47 L228.60,327.39 L229.10,327.30 L229.60,327.21 L230.10,327.11 L230.60,327.01 L231.10,326.91 L231.60,326.80 L232.10,326.69 L232.60,326.57 L233.10,326.45 L233.60,326.32 L234.10,326.19 L234.60,326.05 L235.10,325.91 L235.60,325.75 L236.10,325.59 L236.60,325.43 L237.10,325.25 L237.60,325.07 L238.10,324.87 L238.60,324.67 L239.10,324.46 L239.60,324.24 L240.10,324.01 L240.60,323.77 L241.10,323.53 L241.60,323.28 L242.10,323.02 L242.60,322.75 L243.10,322.49 L243.60,322.22 L244.10,321.96 L244.60,321.70 L245.10,321.44 L245.60,321.20 L246.10,320.97 L246.60,320.76 L247.10,320.57 L247.60,320.40 L248.10,320.26 L248.60,320.15 L249.10,320.06 L249.75,320.00 L250.25,319.99 L250.75,320.00 L251.25,320.05 L251.75,320.12 L252.25,320.21 L252.75,320.32 L253.25,320.45 L253.75,320.60 L254.25,320.76 L254.75,320.93 L255.25,321.10 L255.75,321.28 L256.25,321.46 L256.75,321.65 L257.25,321.83 L257.75,322.01 L258.25,322.19 L258.75,322.36 L259.25,322.53 L259.75,322.70 L260.25,322.86 L260.75,323.01 L261.25,323.16 L261.75,323.31 L262.25,323.44 L262.75,323.58 L263.25,323.70 L263.75,323.83 L264.25,323.94 L264.75,324.06 L265.25,324.17 L265.75,324.27 L266.25,324.37 L266.75,324.46 L267.25,324.55 L267.75,324.64 L268.25,324.73 L268.75,324.81 L269.25,324.88 L269.75,324.96 L270.25,325.03 L270.75,325.10 L271.25,325.17 L271.75,325.23 L272.25,325.29 L272.75,325.35 L273.25,325.41 L273.75,325.46 L274.25,325.52 L274.75,325.57 L275.25,325.62 L275.75,325.67 L276.25,325.72 L276.75,325.77 L277.25,325.81 L277.75,325.86 L278.25,325.90 L278.75,325.94 L279.25,325.98 L279.75,326.02 L280.25,326.06 L280.75,326.10 L281.25,326.14 L281.75,326.17 L282.25,326.21 L282.75,326.24 L283.25,326.28 L283.75,326.31 L284.25,326.35 L284.75,326.38 L285.25,326.41 L285.75,326.44 L286.25,326.48 L286.75,326.51 L287.25,326.54 L287.75,326.57 L288.25,326.60 L288.75,326.63 L289.25,326.66 L289.75,326.69 L290.25,326.71 L290.75,326.74 L291.25,326.77 L291.75,326.80 L292.25,326.83 L292.75,326.85 L293.25,326.88 L293.75,326.91 L294.25,326.93 L294.75,326.96 L295.25,326.99 L295.75,327.01 L296.25,327.04 L296.75,327.07 L297.25,327.09 L297.75,327.12 L298.25,327.14 L298.75,327.17 L299.25,327.19 L299.75,327.22 L300.25,327.24 L300.75,327.27 L301.25,327.29 L301.75,327.32 L302.25,327.34 L302.75,327.37 L303.25,327.39 L303.75,327.42 L304.25,327.44 L304.75,327.46 L305.25,327.49 L305.75,327.51 L306.25,327.54 L306.75,327.56 L307.25,327.58 L307.75,327.61 L308.25,327.63 L308.75,327.65 L309.25,327.68 L309.75,327.70 L310.25,327.72 L310.75,327.75 L311.25,327.77 L311.75,327.79 L312.25,327.82 L312.75,327.84 L313.25,327.86 L313.75,327.89 L314.25,327.91 L314.75,327.93 L315.25,327.95 L315.75,327.98 L316.25,328.00 L316.75,328.02 L317.25,328.04 L317.75,328.07 L318.25,328.09 L318.70,328.11" stroke="#ff7f0e" stroke-width="2.1" fill="none" stroke-linecap="square" stroke-linejoin="round"/>
<path d="M318.70,331.20 L319.20,331.21 L319.70,331.23 L320.20,331.24 L320.70,331.24 L321.20,331.25 L321.70,331.25 L322.20,331.25 L322.70,331.25 L323.20,331.25 L323.70,331.24 L324.20,331.23 L324.70,331.22 L325.20,331.21 L325.70,331.19 L326.20,331.18 L326.70,331.16 L327.20,331.14 L327.70,331.11 L328.20,331.09 L328.70,331.06 L329.20,331.03 L329.70,331.00 L330.20,330.97 L330.70,330.94 L331.20,330.90 L331.70,330.87 L332.20,330.83 L332.70,330.79 L333.20,330.74 L333.70,330.70 L334.20,330.66 L334.70,330.61 L335.20,330.56 L335.70,330.51 L336.20,330.46 L336.70,330.41 L337.20,330.36 L337.70,330.30 L338.20,330.25 L338.70,330.19 L339.20,330.13 L339.70,330.08 L340.20,330.02 L340.70,329.96 L341.20,329.89 L341.70,329.83 L342.20,329.77 L342.70,329.70 L343.20,329.64 L343.70,329.57 L344.20,329.50 L344.70,329.44 L345.20,329.37 L345.70,329.30 L346.20,329.23 L346.70,329.16 L347.20,329.09 L347.70,329.02 L348.20,328.94 L348.70,328.87 L349.20,328.80 L349.70,328.72 L350.20,328.65 L350.70,328.57 L351.20,328.50 L351.70,328.42 L352.20,328.35 L352.70,328.27 L353.20,328.19 L353.70,328.12 L354.20,328.04 L354.70,327.96 L355.20,327.89 L355.70,327.81 L356.20,327.73 L356.70,327.65 L357.20,327.57 L357.70,327.49 L358.20,327.42 L358.70,327.34 L359.20,327.26 L359.70,327.18 L360.20,327.10 L360.70,327.02 L361.20,326.94 L361.70,326.86 L362.20,326.78 L362.70,326.71 L363.20,326.63 L363.70,326.55 L364.20,326.47 L364.70,326.39 L365.20,326.31 L365.70,326.23 L366.20,326.15 L366.70,326.08 L367.20,326.00 L367.70,325.92 L368.20,325.84 L368.70,325.76 L369.20,325.68 L369.70,325.61 L370.20,325.53 L370.70,325.45 L371.20,325.37 L371.70,325.30 L372.20,325.22 L372.70,325.14 L373.20,325.06 L373.70,324.98 L374.20,324.91 L374.70,324.83 L375.20,324.75 L375.70,324.67 L376.20,324.60 L376.70,324.52 L377.20,324.44 L377.70,324.36 L378.20,324.27 L378.70,324.19 L379.20,324.10 L379.70,324.02 L380.20,323.93 L380.70,323.83 L381.20,323.74 L381.70,323.64 L382.20,323.54 L382.70,323.43 L383.20,323.32 L383.70,323.21 L384.20,323.10 L384.70,322.97 L385.20,322.85 L385.70,322.72 L386.20,322.58 L386.70,322.44 L387.20,322.29 L387.70,322.14 L388.20,321.98 L388.70,321.82 L389.20,321.64 L389.70,321.46 L390.20,321.28 L390.70,321.08 L391.20,320.88 L391.70,320.67 L392.20,320.45 L392.70,320.22 L393.20,319.98 L393.70,319.73 L394.20,319.47 L394.70,319.20 L395.20,318.92 L395.70,318.63 L396.20,318.32 L396.70,318.01 L397.20,317.68 L397.70,317.34 L398.20,316.98 L398.70,316.61 L399.20,316.22 L399.70,315.82 L400.20,315.40 L400.70,314.97 L401.20,314.52 L401.70,314.05 L402.20,313.56 L402.70,313.05 L403.20,312.52 L403.70,311.97 L404.20,311.39 L404.70,310.79 L405.20,310.17 L405.70,309.51 L406.20,308.83 L406.70,308.12 L407.20,307.38 L407.70,306.61 L408.20,305.80 L408.70,304.95 L408.95,304.51 L409.20,304.06 L409.45,303.60 L409.70,303.13 L409.95,302.65 L410.20,302.16 L410.45,301.65 L410.70,301.13 L410.95,300.60 L411.20,300.05 L411.45,299.49 L411.70,298.92 L411.95,298.33 L412.20,297.73 L412.45,297.11 L412.70,296.47 L412.95,295.81 L413.20,295.14 L413.45,294.45 L413.70,293.74 L413.95,293.01 L414.20,292.26 L414.45,291.49 L414.70,290.70 L414.95,289.88 L415.20,289.04 L415.45,288.18 L415.70,287.30 L415.95,286.39 L416.20,285.45 L416.45,284.49 L416.70,283.51 L416.95,282.50 L417.20,281.47 L417.45,280.41 L417.70,279.33 L417.95,278.23 L418.20,277.11 L418.45,275.96 L418.60,275.27 L418.95,273.63 L419.20,272.45 L419.45,271.25 L419.70,270.06 L419.95,268.87 L420.20,267.69 L420.45,266.52 L420.70,265.38 L420.95,264.26 L421.20,263.17 L421.45,262.13 L421.70,261.13 L421.95,260.19 L422.20,259.30 L422.45,258.48 L422.70,257.72 L422.95,257.03 L423.20,256.42 L423.70,256.52 L423.95,257.05 L424.20,257.65 L424.40,258.18 L424.70,259.04 L424.95,259.82 L425.20,260.65 L425.45,261.53 L425.70,262.45 L425.95,263.40 L426.20,264.37 L426.45,265.37 L426.70,266.38 L426.95,267.40 L427.20,268.42 L427.45,269.43 L427.70,270.45 L427.95,271.45 L428.20,272.44 L428.45,273.42 L428.70,274.38 L428.95,275.31 L429.20,276.23 L429.45,277.13 L429.70,278.00 L429.95,278.85 L430.20,279.67 L430.45,280.47 L430.70,281.25 L430.95,282.00 L431.20,282.73 L431.45,283.44 L431.70,284.13 L431.95,284.79 L432.20,285.43 L432.45,286.05 L432.70,286.65 L432.90,287.12 L433.20,287.79 L433.45,288.34 L433.70,288.87 L433.95,289.38 L434.20,289.87 L434.45,290.35 L434.70,290.82 L434.95,291.27 L435.20,291.71 L435.70,292.55 L436.20,293.34 L436.70,294.09 L437.20,294.80 L437.70,295.47 L438.20,296.11 L438.70,296.72 L439.20,297.30 L439.60,297.74 L439.95,298.12 L440.45,298.63 L440.95,299.12 L441.45,299.59 L441.95,300.04 L442.45,300.47 L442.95,300.89 L443.45,301.29 L443.95,301.67 L444.40,302.00 L444.95,302.39 L445.45,302.73 L445.95,303.05 L446.45,303.37 L446.95,303.67 L447.45,303.97 L447.95,304.25 L448.45,304.52 L448.95,304.79 L449.45,305.04 L449.95,305.29 L450.45,305.52 L450.95,305.75 L451.45,305.98 L451.95,306.19 L452.45,306.40 L452.95,306.60 L453.45,306.79 L453.95,306.98 L454.45,307.16 L454.95,307.34 L455.45,307.51 L455.95,307.68 L456.45,307.84 L456.95,307.99 L457.45,308.14 L457.95,308.29 L458.45,308.43 L458.95,308.56 L459.45,308.70 L459.95,308.82 L460.45,308.95 L460.95,309.07 L461.45,309.18 L461.95,309.30 L462.45,309.40 L462.95,309.51 L463.45,309.61 L463.95,309.71 L464.45,309.80 L464.95,309.90 L465.45,309.99 L465.95,310.07 L466.45,310.16 L466.95,310.24 L467.45,310.31 L467.95,310.39 L468.45,310.46 L468.95,310.53 L469.45,310.60 L469.95,310.66 L470.45,310.73 L470.95,310.79 L471.45,310.84 L471.95,310.90 L472.45,310.96 L472.95,311.01 L473.45,311.06 L473.95,311.11 L474.45,311.15 L474.95,311.20 L475.45,311.24 L475.95,311.28 L476.45,311.32 L476.95,311.36 L477.45,311.39 L477.95,311.43 L478.45,311.46 L478.95,311.49 L479.45,311.52 L479.95,311.55 L480.45,311.58 L480.95,311.60 L481.45,311.63 L481.95,311.65 L482.45,311.67 L482.95,311.69 L483.45,311.71 L483.95,311.73 L484.45,311.75 L484.95,311.76 L485.45,311.78 L485.95,311.79 L486.45,311.81 L486.95,311.82 L487.45,311.83 L487.95,311.84 L488.45,311.85 L488.95,311.86 L489.45,311.86 L489.95,311.87 L490.45,311.88 L490.95,311.88 L491.45,311.89 L491.95,311.89 L492.45,311.89 L492.95,311.89 L493.45,311.89 L493.95,311.89 L494.45,311.89 L494.95,311.89 L495.45,311.89 L495.95,311.89 L496.45,311.88 L496.95,311.88 L497.45,311.88 L497.95,311.87 L498.45,311.87 L498.95,311.86 L499.45,311.85 L499.95,311.85 L500.45,311.84 L500.95,311.83 L501.45,311.82 L501.95,311.81 L502.45,311.80 L502.95,311.79 L503.45,311.78 L503.95,311.77 L504.45,311.75 L504.95,311.74 L505.45,311.73 L505.95,311.71 L506.45,311.70 L506.95,311.69 L507.45,311.67 L507.95,311.66 L508.45,311.64 L508.95,311.62 L509.45,311.61 L509.95,311.59 L510.45,311.57 L510.95,311.55 L511.45,311.54 L511.95,311.52 L512.45,311.50 L512.95,311.48 L513.45,311.46 L513.95,311.44 L514.45,311.42 L514.70,311.41" stroke="#1f77b4" stroke-width="2.1" fill="none" stroke-linecap="square" stroke-linejoin="round"/>
<rect x="61.8" y="252.2" width="474.7" height="83.0" fill="none" stroke="#000" stroke-width="1.1"/>
<path d="M83.50,335.2v4.5M161.90,335.2v4.5M240.30,335.2v4.5M318.70,335.2v4.5M397.10,335.2v4.5M475.50,335.2v4.5M61.8,332.50h-4.5M61.8,294.70h-4.5M61.8,256.90h-4.5" stroke="#000" stroke-width="1.1" fill="none"/>
<g style="font-family:'Liberation Sans',sans-serif;font-size:13.2px;stroke:#000;stroke-width:0.25" fill="#000"><text transform="translate(69.62,352.70) scale(0.92,1)" x="0.00 7.58 15.22 22.83" y="0">0.35</text><text transform="translate(148.02,352.70) scale(0.92,1)" x="0.00 7.58 15.22 22.83" y="0">0.40</text><text transform="translate(226.42,352.70) scale(0.92,1)" x="0.00 7.58 15.22 22.83" y="0">0.45</text><text transform="translate(304.82,352.70) scale(0.92,1)" x="0.00 7.58 15.22 22.83" y="0">0.50</text><text transform="translate(383.22,352.70) scale(0.92,1)" x="0.00 7.58 15.22 22.83" y="0">0.55</text><text transform="translate(461.62,352.70) scale(0.92,1)" x="0.00 7.58 15.22 22.83" y="0">0.60</text><text transform="translate(46.42,336.80) scale(0.92,1)" x="0.00" y="0">0</text><text transform="translate(39.42,299.00) scale(0.92,1)" x="0.00 7.61" y="0">20</text><text transform="translate(39.42,261.20) scale(0.92,1)" x="0.00 7.61" y="0">40</text></g>
<rect x="80.0" y="264.5" width="85.0" height="21.1" rx="3.5" fill="#d0d0d0"/>
<g fill="#ff0000"><text y="280.0"><tspan x="83.9" style="font-family:'DejaVu Sans',sans-serif;font-size:14px">(</tspan><tspan x="89.36" style="font-family:'DejaVu Sans',sans-serif;font-style:italic;font-size:14px">c</tspan><tspan x="97.06" style="font-family:'DejaVu Sans',sans-serif;font-size:14px">)</tspan><tspan x="105.8" style="font-family:'DejaVu Sans',sans-serif;font-size:14px">: </tspan><tspan x="120.4" style="font-family:'DejaVu Sans',sans-serif;font-style:italic;font-size:14px">NEFIR</tspan></text></g>
<g transform="translate(24.0,333.59999999999997) rotate(-90)" fill="#000"><text><tspan x="0" y="0" text-anchor="start" style="font-family:'DejaVu Sans',sans-serif;font-style:italic;font-size:14px">NEFIR </tspan><tspan x="52.40" y="-1.2" text-anchor="middle" style="font-family:'Liberation Sans',sans-serif;font-size:13px">(</tspan><tspan x="59.10" y="0" text-anchor="middle" style="font-family:'Liberation Sans',sans-serif;font-size:13.4px;font-style:italic">a</tspan><tspan x="65.60" y="0" text-anchor="middle" style="font-family:'Liberation Sans',sans-serif;font-size:13.4px">.</tspan><tspan x="75.50" y="0" text-anchor="middle" style="font-family:'Liberation Sans',sans-serif;font-size:13.4px;font-style:italic">u</tspan><tspan x="81.90" y="0" text-anchor="middle" style="font-family:'Liberation Sans',sans-serif;font-size:13.4px">.</tspan><tspan x="89.40" y="-1.2" text-anchor="middle" style="font-family:'Liberation Sans',sans-serif;font-size:13px">)</tspan></text></g>
<text y="370.7" fill="#000"><tspan x="243.0" style="font-family:'DejaVu Sans',sans-serif;font-style:italic;font-size:14px">Frequency</tspan><tspan x="317.9" style="font-family:'DejaVu Sans',sans-serif;font-size:14px">(</tspan><tspan x="323.0" style="font-family:'DejaVu Sans',sans-serif;font-style:italic;font-size:14px">THz</tspan><tspan x="350.2" style="font-family:'DejaVu Sans',sans-serif;font-size:14px">)</tspan></text>
<rect x="87.6" y="384.2" width="422.8" height="24.8" rx="2.8" fill="#fff" stroke="#d6d6d6" stroke-width="1.1"/>
<path d="M92.3,395.8H122.6" stroke="#1f77b4" stroke-width="2.1"/>
<text fill="#000"><tspan x="133.60" y="401.0" style="font-family:'DejaVu Sans',sans-serif;font-style:italic;font-size:14px">h</tspan><tspan x="141.90" y="403.4" style="font-family:'DejaVu Sans',sans-serif;font-size:10.5px">3 </tspan><tspan x="152.40" y="401.4" style="font-family:'DejaVu Sans',sans-serif;font-size:14px">= </tspan><tspan x="166.60" y="401.0" style="font-family:'DejaVu Sans',sans-serif;font-size:14px">5 </tspan><tspan x="183.40" y="401.0" style="font-family:'DejaVu Sans',sans-serif;font-style:italic;font-size:14px">μm</tspan></text>
<path d="M233.8,395.8H263.3" stroke="#ff7f0e" stroke-width="2.1"/>
<text fill="#000"><tspan x="274.20" y="401.0" style="font-family:'DejaVu Sans',sans-serif;font-style:italic;font-size:14px">h</tspan><tspan x="282.50" y="403.4" style="font-family:'DejaVu Sans',sans-serif;font-size:10.5px">3 </tspan><tspan x="293.00" y="401.4" style="font-family:'DejaVu Sans',sans-serif;font-size:14px">= </tspan><tspan x="307.20" y="401.0" style="font-family:'DejaVu Sans',sans-serif;font-size:14px">15 </tspan><tspan x="332.91" y="401.0" style="font-family:'DejaVu Sans',sans-serif;font-style:italic;font-size:14px">μm</tspan></text>
<path d="M383,395.8H413.4" stroke="#2ca02c" stroke-width="2.1"/>
<text fill="#000"><tspan x="424.40" y="401.0" style="font-family:'DejaVu Sans',sans-serif;font-style:italic;font-size:14px">h</tspan><tspan x="432.70" y="403.4" style="font-family:'DejaVu Sans',sans-serif;font-size:10.5px">3 </tspan><tspan x="443.20" y="401.4" style="font-family:'DejaVu Sans',sans-serif;font-size:14px">= </tspan><tspan x="457.40" y="401.0" style="font-family:'DejaVu Sans',sans-serif;font-size:14px">25 </tspan><tspan x="483.11" y="401.0" style="font-family:'DejaVu Sans',sans-serif;font-style:italic;font-size:14px">μm</tspan></text>
</svg>
</body></html>
